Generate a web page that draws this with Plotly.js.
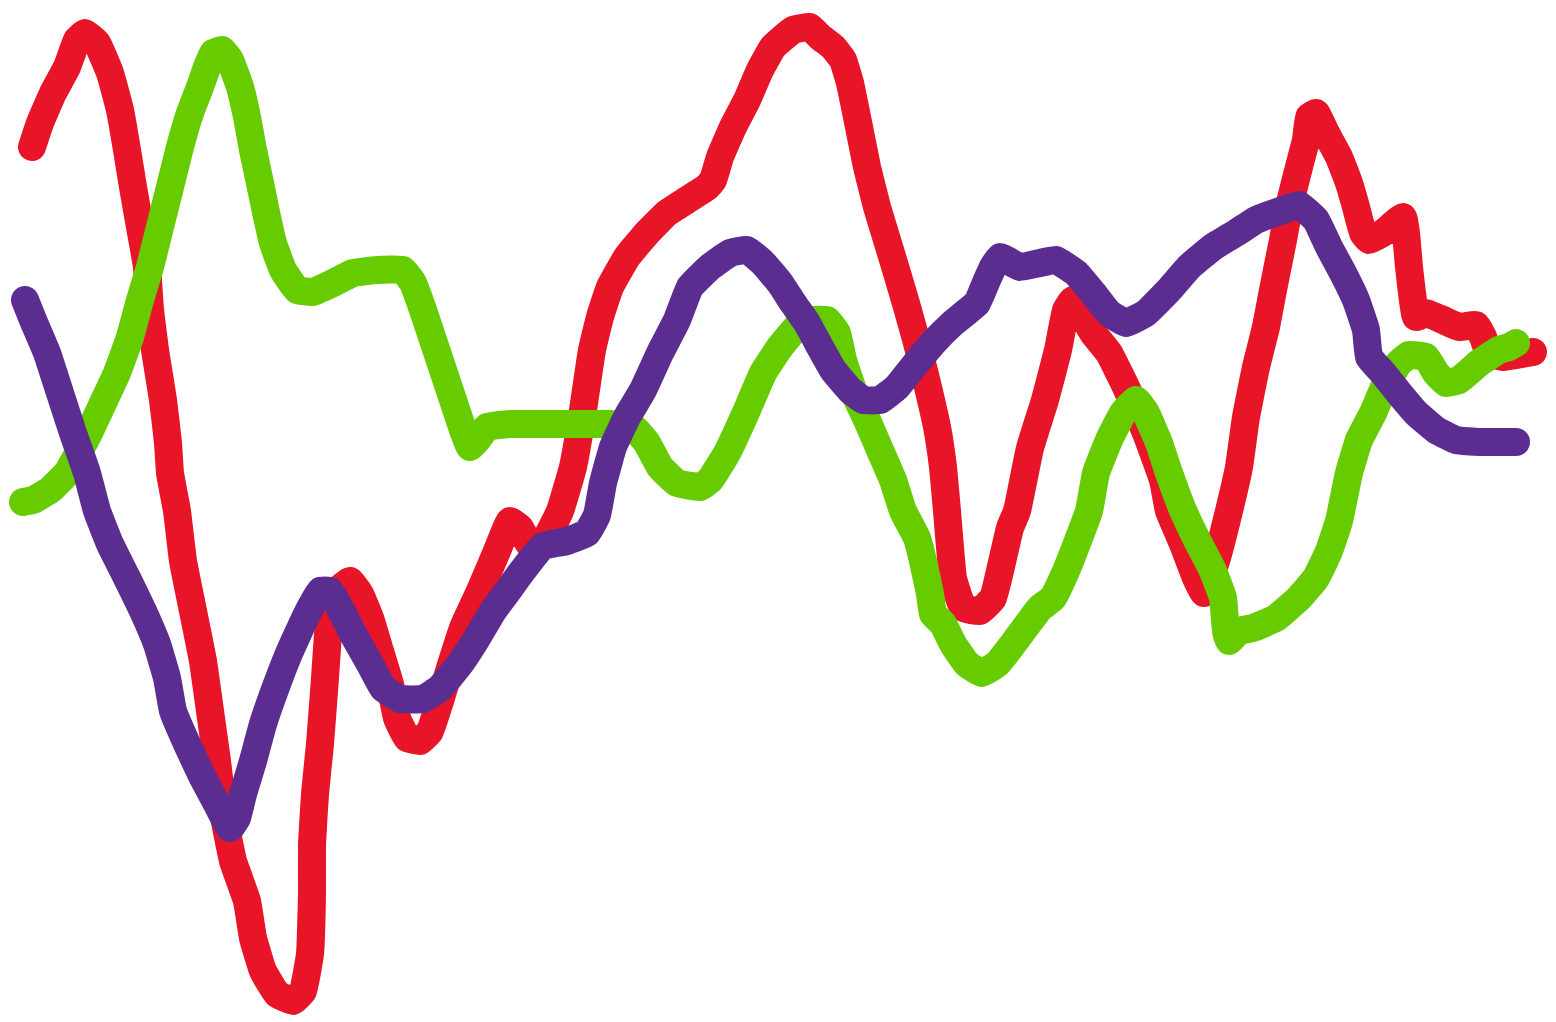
<!DOCTYPE html>
<html><head><meta charset="utf-8">
<script src="https://cdn.plot.ly/plotly-3.0.1.min.js"></script>
<style>
html,body{margin:0;padding:0;background:#fff;}
#chart{width:1556px;height:1022px;}
.scatterlayer path.js-line{stroke-linecap:round;stroke-linejoin:round;}
</style></head><body>
<div id="chart"></div>
<script>
const redX=[32,40,53,67,77,85,97,110,120,127,133,140,147,150,155,163,168,170,177,183,193,203,210,217,223,233,247,253,263,277,293,303,310,312,312,315,320,325,330,337,350,360,370,380,390,397,407,420,430,440,450,463,480,497,510,520,530,545,560,573,583,592,600,610,627,647,667,687,707,713,720,733,747,760,773,793,810,820,833,843,850,857,867,877,887,897,907,917,927,937,943,947,953,963,980,993,1000,1010,1017,1030,1045,1058,1066,1073,1093,1109,1126,1146,1163,1169,1183,1196,1204,1216,1229,1239,1246,1256,1266,1273,1283,1289,1299,1306,1309,1316,1326,1339,1349,1356,1363,1369,1383,1403,1406,1409,1416,1426,1443,1459,1476,1483,1489,1503,1533];
const redY=[147,123,93,67,40,33,43,73,110,150,187,227,267,310,350,400,443,473,511,561,611,661,711,761,811,861,901,938,971,994,1001,991,954,894,844,794,744,678,611,591,581,594,618,651,684,718,738,741,731,701,668,628,591,551,521,528,545,540,511,467,410,350,317,287,257,233,213,200,187,180,157,127,100,70,47,30,27,37,47,60,83,117,167,207,240,273,307,343,383,427,467,511,578,608,611,598,571,528,511,448,400,350,310,300,333,353,387,433,480,511,544,578,593,561,511,467,417,367,327,290,240,207,167,140,117,113,133,157,183,207,233,240,233,217,233,267,317,313,320,327,325,337,353,357,352];

const greenX=[23,33,50,67,87,103,117,130,140,150,160,170,180,190,200,207,213,222,230,240,247,253,260,267,273,283,297,313,333,353,377,403,413,423,433,443,453,463,470,477,487,510,560,610,633,647,660,677,700,710,727,747,763,780,797,813,827,837,843,853,867,880,893,903,917,923,930,933,943,953,967,982,997,1013,1030,1040,1053,1066,1079,1089,1096,1109,1123,1136,1146,1159,1169,1182,1196,1213,1223,1226,1229,1239,1253,1276,1299,1316,1329,1339,1349,1359,1373,1386,1399,1409,1426,1436,1446,1459,1479,1499,1509,1516];
const greenY=[502,500,490,473,437,403,373,337,300,267,227,187,147,113,87,67,53,50,60,87,117,150,183,217,243,270,290,292,283,273,270,270,283,310,340,370,400,430,447,440,427,424,424,424,427,443,467,483,487,480,453,410,373,347,327,320,320,333,360,390,420,450,480,511,538,561,594,614,624,644,664,673,664,644,621,608,598,571,538,511,473,440,413,400,413,443,473,508,538,571,598,631,641,631,628,618,598,578,551,521,473,440,413,383,363,355,357,373,383,380,363,350,347,343];

const purpleX=[25,33,47,60,73,87,97,110,127,143,157,167,173,187,203,217,230,237,243,253,263,277,290,307,320,330,340,353,370,383,400,423,440,460,477,493,510,520,543,567,587,597,603,613,627,643,660,677,690,710,730,747,763,780,793,807,820,833,850,863,880,897,913,933,953,977,987,993,1000,1020,1040,1056,1076,1093,1109,1126,1146,1169,1189,1213,1236,1256,1283,1299,1316,1329,1343,1356,1366,1369,1383,1399,1416,1436,1456,1480,1503,1516];
const purpleY=[300,320,353,393,433,473,511,544,578,611,644,678,711,744,778,804,828,818,794,761,724,684,651,614,591,591,608,634,664,688,699,699,688,664,638,611,588,574,546,541,533,515,483,447,417,390,353,320,287,267,253,250,263,283,303,323,347,370,390,400,400,387,367,343,323,303,280,267,257,267,263,260,273,293,313,323,313,290,267,247,233,220,210,205,220,247,273,300,330,357,373,393,413,430,440,442,442,442,438];

const mk=(x,y,c)=>({x:x,y:y,type:'scatter',mode:'lines',line:{color:c,width:28,shape:'spline',smoothing:0.3},hoverinfo:'skip',showlegend:false});
const data=[mk(redX,redY,'#E81427'),mk(greenX,greenY,'#66CC00'),mk(purpleX,purpleY,'#5B2D90')];
const layout={width:1556,height:1022,margin:{l:0,r:0,t:0,b:0},paper_bgcolor:'#fff',plot_bgcolor:'#fff',
xaxis:{range:[0,1556],visible:false,fixedrange:true},
yaxis:{range:[1022,0],visible:false,fixedrange:true}};
Plotly.newPlot('chart',data,layout,{staticPlot:true,displayModeBar:false});
</script></body></html>
